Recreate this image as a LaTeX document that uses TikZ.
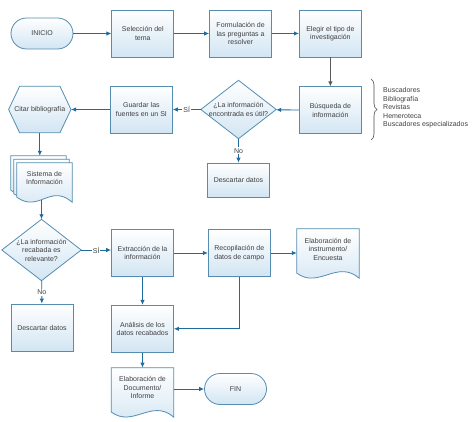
\documentclass[tikz,border=0pt]{standalone}
\usepackage{fontspec}
\setmainfont{Liberation Sans}
\usetikzlibrary{positioning, arrows.meta, calc, decorations.pathreplacing, backgrounds}

\definecolor{boxline}{RGB}{84,141,175}
\definecolor{boxfill}{RGB}{210,229,243}
\definecolor{arrblue}{RGB}{30,108,158}
\definecolor{txtgray}{RGB}{64,64,64}

% outlines drawn behind plain nodes
\newcommand{\hexoutline}[1]{%
  \draw[shade] (#1.west) -- ($(#1.north west)+(11,0)$) -- ($(#1.north east)+(-11,0)$)
    -- (#1.east) -- ($(#1.south east)+(-11,0)$) -- ($(#1.south west)+(11,0)$) -- cycle;}
\newcommand{\diaoutline}[1]{%
  \draw[shade] (#1.north) -- (#1.east) -- (#1.south) -- (#1.west) -- cycle;}
\newcommand{\docoutline}[3]{%
  \draw[shade] ($(#1.north west)+(#2,#3)$) -- ($(#1.north east)+(#2,#3)$)
    -- ($(#1.south east)+(#2,#3+9)$)
    .. controls ($(#1.south east)+(#2-22,#3-10)$) and ($(#1.south west)+(#2+22,#3+20)$)
    .. ($(#1.south west)+(#2,#3+4)$) -- cycle;}

\begin{document}
\begin{tikzpicture}[x=1pt, y=-1pt,
  every node/.style={font=\fontsize{7}{8.5}\selectfont, text=txtgray},
  arr/.style={-{Latex[length=5pt, width=4.5pt]}, line width=0.9pt, arrblue},
  shade/.style={draw=boxline, line width=0.8pt, top color=white, bottom color=boxfill},
  block/.style={shade, minimum width=62pt, minimum height=47pt, align=center, inner sep=2pt},
  term/.style={shade, rounded corners=15.5pt, minimum width=62pt, minimum height=31pt},
  bare/.style={minimum width=62pt, minimum height=46pt, align=center, inner sep=0pt},
  lbl/.style={fill=white, inner sep=1pt}
]
\useasboundingbox (0,0) rectangle (474,422);

% ---- top row ----
\node[term] (inicio) at (42,33.5) {INICIO};
\node[block, right=38pt of inicio] (seleccion) {Selección del\\tema};
\node[block, right=35pt of seleccion] (formulacion) {Formulación de\\las preguntas a\\resolver};
\node[block, right=27pt of formulacion] (elegir) {Elegir el tipo de\\investigación};

% ---- search row ----
\node[block, below=29pt of elegir] (busqueda) {Búsqueda de\\información};
\node[bare, minimum width=75pt, minimum height=58pt] (util) at (238.5,109.5)
  {¿La información\\encontrada es útil?};
\node[block, left=28pt of util] (guardar) {Guardar las\\fuentes en un SI};
\node[bare, left=39pt of guardar] (citar) {Citar bibliografía};
\node[block, minimum height=34pt, below=24pt of util] (descartarA) {Descartar datos};

\node[anchor=west, align=left, inner sep=0pt] (fuentes) at (383,108)
  {Buscadores\\Bibliografía\\Revistas\\Hemeroteca\\Buscadores especializados};

% ---- documents / decisions ----
\node[bare, minimum width=55pt, minimum height=30pt] (sistema) at (44.5,178) {Sistema de\\Información};
\coordinate (sistop) at ($(sistema.north west)+(-6,-7)$);
\node[bare, minimum width=79pt, minimum height=61pt] (relevante) at (41.5,250)
  {¿La información\\recabada es\\relevante?};
\node[block] (extraccion) at (142.5,253) {Extracción de la\\información};
\node[block, right=34pt of extraccion] (recopilacion) {Recopilación de\\datos de campo};
\node[bare, minimum height=40pt] (instrumento) at (328,249) {Elaboración de\\instrumento/\\Encuesta};

% ---- bottom ----
\node[block] (descartarB) at (42,327.5) {Descartar datos};
\node[block, below=28pt of extraccion] (analisis) {Análisis de los\\datos recabados};
\node[bare, minimum height=40pt, below=15pt of analisis] (informe) {Elaboración de\\Documento/\\Informe};
\node[term] (fin) at (235.5,389) {FIN};

\begin{scope}[on background layer]
  \hexoutline{citar}
  \diaoutline{util}
  \diaoutline{relevante}
  \docoutline{sistema}{-6}{-7}
  \docoutline{sistema}{-3}{-3.5}
  \docoutline{sistema}{0}{0}
  \docoutline{instrumento}{0}{0}
  \docoutline{informe}{0}{0}
\end{scope}

% ---- arrows ----
\draw[arr] (inicio) -- (seleccion);
\draw[arr] (seleccion) -- (formulacion);
\draw[arr] (formulacion) -- (elegir);
\draw[arr, black!65] (elegir) -- (busqueda);
\draw[arr] (busqueda) -- (util);
\draw[arr] (util) -- node[lbl] {SÍ} (guardar);
\draw[arr] (util) -- node[lbl] {No} (descartarA);
\draw[arr] (guardar) -- (citar);
\draw[arr] (citar) -- (citar.south |- sistop);
\draw[arr] ($(sistema.south -| relevante.north)+(0,7)$) -- (relevante.north);
\draw[arr] (relevante.east) -- node[lbl] {SÍ} (relevante.east -| extraccion.west);
\draw[arr] (relevante) -- node[lbl] {No} (descartarB);
\draw[arr] (extraccion) -- (recopilacion);
\draw[arr] (recopilacion.east) -- (recopilacion.east -| instrumento.west);
\draw[arr] (extraccion) -- (analisis);
\draw[arr] (recopilacion.south) |- (analisis.east);
\draw[arr] (analisis) -- (informe);
\draw[arr] (informe.east |- fin.west) -- (fin);

% ---- brace ----
\draw[decorate, decoration={brace, amplitude=6pt}, line width=0.6pt, black!70]
  ($(fuentes.west)+(-12,-29)$) -- ($(fuentes.west)+(-12,32)$);

\end{tikzpicture}
\end{document}
